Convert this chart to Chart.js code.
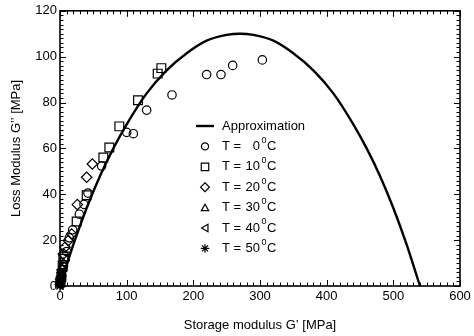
<!DOCTYPE html>
<html>
<head>
<meta charset="utf-8">
<script src="https://cdn.jsdelivr.net/npm/chart.js@4.4.1/dist/chart.umd.min.js"></script>
<style>
  html, body { margin: 0; padding: 0; background: #fff; }
  #wrap { width: 474px; height: 336px; }
</style>
</head>
<body>
<div id="wrap"><canvas id="chart" width="474" height="336"></canvas></div>
<script>
// Axis tick values
const storageTicks = [0, 100, 200, 300, 400, 500, 600];
const lossTicks = [0, 20, 40, 60, 80, 100, 120];

// Approximation curve (storage G' vs loss G'')
const approxStorage = [0, 5, 20, 40, 60, 80, 100, 130, 160, 190, 220, 250, 270, 290, 320, 350, 380, 410, 440, 460, 480, 500, 520, 535, 540];
const approxLoss    = [0, 4.5, 18, 34, 48, 60, 70.5, 84, 94, 101.5, 107, 109.5, 110, 109.5, 107, 101.5, 94, 84, 70.5, 60, 48, 34, 18, 4.5, 0];

// Measured points per temperature
const temps = [0, 10, 20, 30, 40, 50];

const storageT0 = [0.5, 2.5, 5, 10, 14, 19, 29, 36, 42, 62.5, 100, 110, 130, 168, 220, 241.5, 259, 303.5];
const lossT0    = [1, 4.5, 8.5, 15, 21, 24.5, 31.3, 35.6, 40.5, 52.3, 67, 66.4, 76.7, 83.3, 92.2, 92.2, 96.2, 98.6];

const storageT10 = [0.5, 2, 4, 5, 7.5, 25, 40, 65, 74, 89, 117, 146.5, 152];
const lossT10    = [1.5, 4, 9, 11.9, 12.9, 28.1, 39.6, 56, 60.4, 69.6, 81, 92.6, 95];

const storageT20 = [1, 3, 5, 7.5, 12.5, 17.5, 26, 40, 48.5];
const lossT20    = [3, 7, 14, 16.9, 19.8, 22.7, 35.5, 47.4, 53.2];

const storageT30 = [0.5, 1.5, 2.5, 3.5, 5];
const lossT30    = [1, 3, 5.5, 7.5, 10];

const storageT40 = [0.3, 1, 2, 3];
const lossT40    = [0.5, 2, 4, 6];

const storageT50 = [0, 0.3, 0.6, 1, 1.5];
const lossT50    = [0, 0.5, 1, 1.6, 2.5];

const FONT = '"Liberation Sans", Arial, Helvetica, sans-serif';

const toPoints = (xs, ys) => xs.map((x, i) => ({ x: x, y: ys[i] }));

const markerSets = [
  { g1: storageT0,  g2: lossT0,  style: 'circle',   rot: 0,   r: 4.2 },
  { g1: storageT10, g2: lossT10, style: 'rect',     rot: 0,   r: 6.2 },
  { g1: storageT20, g2: lossT20, style: 'rectRot',  rot: 0,   r: 5.2 },
  { g1: storageT30, g2: lossT30, style: 'triangle', rot: 0,   r: 5 },
  { g1: storageT40, g2: lossT40, style: 'triangle', rot: -90, r: 5 },
  { g1: storageT50, g2: lossT50, style: 'star',     rot: 0,   r: 5 }
];

const datasets = [{
  label: 'Approximation',
  data: toPoints(approxStorage, approxLoss),
  showLine: true,
  borderColor: '#000',
  borderWidth: 2.4,
  pointRadius: 0,
  cubicInterpolationMode: 'monotone',
  clip: false,
  order: 0
}];

markerSets.forEach((m, i) => {
  datasets.push({
    label: 'T = ' + temps[i] + '°C',
    temp: temps[i],
    data: toPoints(m.g1, m.g2),
    showLine: false,
    pointStyle: m.style,
    pointRotation: m.rot,
    pointRadius: m.r,
    pointBorderWidth: 1.2,
    pointBorderColor: '#000',
    pointBackgroundColor: 'rgba(255,255,255,0)',
    borderColor: '#000',
    clip: false,
    order: 1
  });
});

// Draw one marker shape centred at (x, y)
function drawMarker(ctx, style, rotDeg, r, x, y) {
  const rad = rotDeg * Math.PI / 180;
  ctx.save();
  ctx.translate(x, y);
  ctx.rotate(rad);
  ctx.beginPath();
  if (style === 'circle') {
    ctx.arc(0, 0, r, 0, Math.PI * 2);
  } else if (style === 'rect') {
    const s = Math.SQRT1_2 * r;
    ctx.rect(-s, -s, 2 * s, 2 * s);
  } else if (style === 'rectRot') {
    ctx.moveTo(0, -r); ctx.lineTo(r, 0); ctx.lineTo(0, r); ctx.lineTo(-r, 0); ctx.closePath();
  } else if (style === 'triangle') {
    for (let k = 0; k < 3; k++) {
      const a = -Math.PI / 2 + k * 2 * Math.PI / 3;
      const px = Math.cos(a) * r, py = Math.sin(a) * r * 1.0 + r * 0.2;
      if (k === 0) ctx.moveTo(px, py); else ctx.lineTo(px, py);
    }
    ctx.closePath();
  } else if (style === 'star') {
    for (let k = 0; k < 4; k++) {
      const a = k * Math.PI / 4;
      ctx.moveTo(Math.cos(a) * r, Math.sin(a) * r);
      ctx.lineTo(-Math.cos(a) * r, -Math.sin(a) * r);
    }
  }
  ctx.stroke();
  ctx.restore();
}

// Boxed frame with inward major/minor ticks on all four sides
const framePlugin = {
  id: 'frame',
  beforeDatasetsDraw(chart) {
    const { ctx, chartArea: a, scales } = chart;
    const xs = scales.x, ys = scales.y;
    ctx.save();
    ctx.strokeStyle = '#000';
    ctx.lineWidth = 1;
    ctx.beginPath();
    for (let v = 0; v <= 600; v += 10) {
      const px = Math.round(xs.getPixelForValue(v)) + 0.5;
      const len = v % 100 === 0 ? 6 : 3.5;
      ctx.moveTo(px, a.bottom); ctx.lineTo(px, a.bottom - len);
      ctx.moveTo(px, a.top); ctx.lineTo(px, a.top + len);
    }
    for (let v = 0; v <= 120; v += 2) {
      const py = Math.round(ys.getPixelForValue(v)) + 0.5;
      const len = v % 20 === 0 ? 6 : 3.5;
      ctx.moveTo(a.left, py); ctx.lineTo(a.left + len, py);
      ctx.moveTo(a.right, py); ctx.lineTo(a.right - len, py);
    }
    ctx.stroke();
    ctx.lineWidth = 1.6;
    ctx.strokeRect(a.left, a.top, a.right - a.left, a.bottom - a.top);
    ctx.restore();
  }
};

// Legend block inside the plot area
const legendPlugin = {
  id: 'innerLegend',
  afterDatasetsDraw(chart) {
    const ctx = chart.ctx;
    const markX = 205, textX = 222, numRight = 260, y0 = 126, dy = 20.4;
    ctx.save();
    ctx.strokeStyle = '#000';
    ctx.fillStyle = '#000';
    ctx.lineWidth = 2.4;
    ctx.beginPath();
    ctx.moveTo(196, y0); ctx.lineTo(214, y0);
    ctx.stroke();
    ctx.textBaseline = 'middle';
    ctx.font = '13px ' + FONT;
    ctx.textAlign = 'left';
    ctx.fillText(chart.data.datasets[0].label, textX, y0);
    chart.data.datasets.slice(1).forEach((ds, i) => {
      const y = y0 + dy * (i + 1);
      ctx.lineWidth = 1.2;
      drawMarker(ctx, ds.pointStyle, ds.pointRotation, ds.pointRadius * 0.85, markX, y);
      ctx.font = '13px ' + FONT;
      ctx.textAlign = 'left';
      ctx.fillText('T = ', textX, y);
      ctx.textAlign = 'right';
      ctx.fillText(String(ds.temp), numRight, y);
      ctx.textAlign = 'left';
      ctx.font = '9px ' + FONT;
      ctx.fillText('0', numRight + 1.5, y - 6);
      ctx.font = '13px ' + FONT;
      ctx.fillText('C', numRight + 7, y);
    });
    ctx.restore();
  }
};

new Chart(document.getElementById('chart'), {
  type: 'scatter',
  data: { datasets: datasets },
  options: {
    responsive: false,
    animation: false,
    devicePixelRatio: 1,
    layout: { padding: { top: 6, right: 14, left: 0, bottom: 0 } },
    plugins: { legend: { display: false }, tooltip: { enabled: false } },
    scales: {
      x: {
        type: 'linear',
        min: 0, max: 600,
        afterBuildTicks: s => { s.ticks = storageTicks.map(v => ({ value: v })); },
        afterFit: s => { s.height = 50; },
        grid: { display: false, drawTicks: false },
        border: { display: false },
        ticks: { color: '#000', font: { family: FONT, size: 13 }, padding: 3, maxRotation: 0 },
        title: { display: true, text: 'Storage modulus G’ [MPa]', color: '#000', font: { family: FONT, size: 13 }, padding: { top: 0, bottom: 3 } }
      },
      y: {
        type: 'linear',
        min: 0, max: 120,
        afterBuildTicks: s => { s.ticks = lossTicks.map(v => ({ value: v })); },
        afterFit: s => { s.width = 60; },
        grid: { display: false, drawTicks: false },
        border: { display: false },
        ticks: { color: '#000', font: { family: FONT, size: 13 }, padding: 3 },
        title: { display: true, text: 'Loss Modulus G’’ [MPa]', color: '#000', font: { family: FONT, size: 13 }, padding: { top: 9, bottom: 0 } }
      }
    }
  },
  plugins: [framePlugin, legendPlugin]
});
</script>
</body>
</html>
